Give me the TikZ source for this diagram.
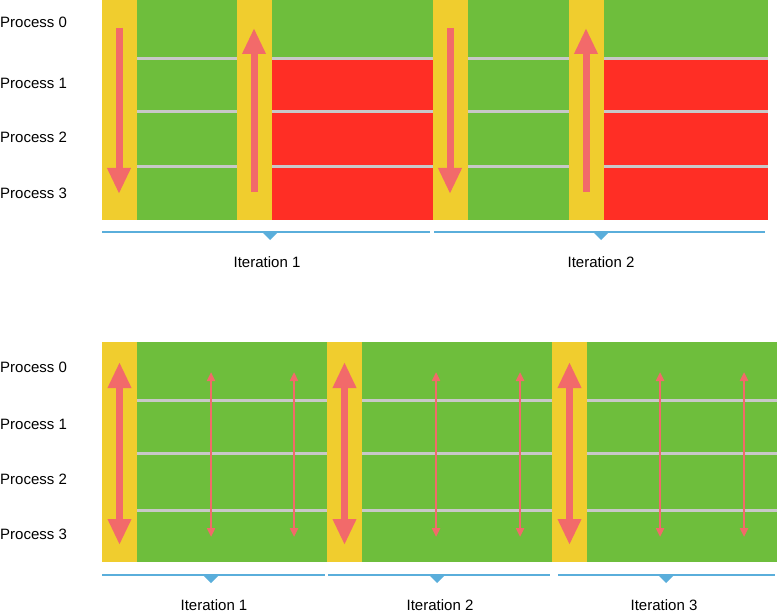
\documentclass[tikz,border=0pt]{standalone}
\usepackage{fontspec}
\setmainfont{Liberation Sans}
\usetikzlibrary{arrows.meta}
\definecolor{gr}{HTML}{6EBE3C}
\definecolor{ye}{HTML}{F0CD2E}
\definecolor{rd}{HTML}{FF2E25}
\definecolor{gy}{HTML}{C8C8C8}
\definecolor{bl}{HTML}{5AAEDB}
\definecolor{ar}{HTML}{F26A6A}
\tikzset{
 lab/.style={font=\fontsize{15}{18}\selectfont, inner sep=0pt},
 bigarr/.style={ar, line width=7pt, -{Triangle[width=22pt,length=26pt]}},
 bigdbl/.style={ar, line width=7pt, {Triangle[width=22pt,length=26pt]}-{Triangle[width=22pt,length=26pt]}},
 thin/.style={ar, line width=2.5pt, {Triangle[width=8pt,length=9pt]}-{Triangle[width=8pt,length=9pt]}},
 grid/.style={gy, line width=3pt},
 brace/.style={bl, line width=2pt},
 tri/.style={bl, fill=bl}
}
\begin{document}
\begin{tikzpicture}[x=1pt,y=-1pt]
\useasboundingbox (0,0) rectangle (778,612);
% ---------- top ----------
\fill[gr] (102,0) rectangle (768,220);
\fill[rd] (272,58) rectangle (433,220);
\fill[rd] (604,57) rectangle (768,220);
\foreach \yy in {59,112,167} \draw[grid] (102,\yy) -- (768,\yy);
\foreach \xx in {102,237,433,569} \fill[ye] (\xx,0) rectangle (\xx+35,220);
\coordinate (d1a) at (119,28); \coordinate (d1b) at (119,194);
\coordinate (u1a) at (254,192); \coordinate (u1b) at (254,28);
\coordinate (d2a) at (450,28); \coordinate (d2b) at (450,194);
\coordinate (u2a) at (586,192); \coordinate (u2b) at (586,28);
\draw[bigarr] (d1a) -- (d1b);
\draw[bigarr] (u1a) -- (u1b);
\draw[bigarr] (d2a) -- (d2b);
\draw[bigarr] (u2a) -- (u2b);
\node[lab, anchor=west] (p0) at (0,22) {Process 0};
\node[lab, anchor=west] (p1) at (0,83) {Process 1};
\node[lab, anchor=west] (p2) at (0,137) {Process 2};
\node[lab, anchor=west] (p3) at (0,193) {Process 3};
\draw[brace] (102,232) -- (430,232);
\draw[brace] (434,232) -- (765,232);
\fill[tri] (262,232) -- (278,232) -- (270,240) -- cycle;
\fill[tri] (593,232) -- (609,232) -- (601,240) -- cycle;
\node[lab] (it1) at (267,262) {Iteration 1};
\node[lab] (it2) at (601,262) {Iteration 2};
% ---------- bottom ----------
\fill[gr] (102,342) rectangle (777,562);
\foreach \yy in {400,453,510} \draw[grid] (102,\yy) -- (777,\yy);
\foreach \xx in {102,327,552} {
  \fill[ye] (\xx,342) rectangle (\xx+35,562);
  \coordinate (ba) at (\xx+17.5,362); \coordinate (bb) at (\xx+17.5,545);
  \draw[bigdbl] (ba) -- (bb);
}
\foreach \xx in {211,294,436,520,660,744} {
  \coordinate (ta) at (\xx,372); \coordinate (tb) at (\xx,537);
  \draw[thin] (ta) -- (tb);
}
\node[lab, anchor=west] (q0) at (0,367) {Process 0};
\node[lab, anchor=west] (q1) at (0,424) {Process 1};
\node[lab, anchor=west] (q2) at (0,479) {Process 2};
\node[lab, anchor=west] (q3) at (0,534) {Process 3};
\draw[brace] (102,575) -- (325,575);
\draw[brace] (328,575) -- (550,575);
\draw[brace] (558,575) -- (775,575);
\fill[tri] (203,575) -- (219,575) -- (211,583) -- cycle;
\fill[tri] (429,575) -- (445,575) -- (437,583) -- cycle;
\fill[tri] (658,575) -- (674,575) -- (666,583) -- cycle;
\node[lab] (j1) at (214,605) {Iteration 1};
\node[lab] (j2) at (440,605) {Iteration 2};
\node[lab] (j3) at (664,605) {Iteration 3};
\end{tikzpicture}
\end{document}
